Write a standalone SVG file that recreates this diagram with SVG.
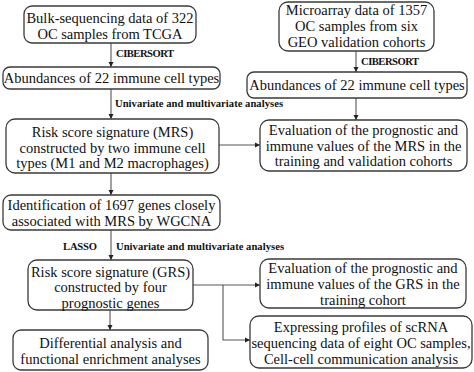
<svg xmlns="http://www.w3.org/2000/svg" width="474" height="372" viewBox="0 0 474 372">
<defs>
<style>
.box{fill:#fff;stroke:#3a3a3a;stroke-width:1.3}
.t{font-family:"Liberation Serif","Times New Roman",serif;font-size:14.5px;fill:#111;text-anchor:middle}
.l{font-family:"Liberation Serif","Times New Roman",serif;font-size:10.6px;font-weight:bold;fill:#111}
.c{fill:none;stroke:#555;stroke-width:1.1}
</style>
<marker id="ah" viewBox="0 0 6 6" refX="6" refY="3" markerWidth="5" markerHeight="5" orient="auto">
<path d="M0,0 L6,3 L0,6 z" fill="#222"/>
</marker>
</defs>
<rect width="474" height="372" fill="#fff"/>
<g id="connectors">
<line class="c" x1="111" y1="43" x2="111" y2="67" marker-end="url(#ah)"/>
<line class="c" x1="111" y1="89" x2="111" y2="119" marker-end="url(#ah)"/>
<line class="c" x1="111" y1="173" x2="111" y2="195" marker-end="url(#ah)"/>
<line class="c" x1="111" y1="230" x2="111" y2="260" marker-end="url(#ah)"/>
<line class="c" x1="110" y1="310" x2="110" y2="330" marker-end="url(#ah)"/>
<line class="c" x1="356" y1="51" x2="356" y2="72" marker-end="url(#ah)"/>
<line class="c" x1="356" y1="98" x2="356" y2="120" marker-end="url(#ah)"/>
<line class="c" x1="219" y1="145" x2="260" y2="145" marker-end="url(#ah)"/>
<line class="c" x1="193" y1="285" x2="260" y2="285" marker-end="url(#ah)"/>
<polyline class="c" points="223,285 223,340 250,340" marker-end="url(#ah)"/>
<text class="l" x="116" y="57" textLength="58">CIBERSORT</text>
<text class="l" x="361" y="65" textLength="58">CIBERSORT</text>
<text class="l" x="115" y="107" textLength="168">Univariate and multivariate analyses</text>
<text class="l" x="63" y="250" textLength="34">LASSO</text>
<text class="l" x="116" y="250" textLength="168">Univariate and multivariate analyses</text>
</g>
<g id="bulk">
<rect class="box" x="24" y="6" width="172" height="37" rx="8"/>
<text class="t" x="110" y="23">Bulk-sequencing data of 322</text>
<text class="t" x="110" y="39">OC samples from TCGA</text>
</g>
<g id="abund-left">
<rect class="box" x="3" y="67" width="217" height="22" rx="7"/>
<text class="t" x="111.5" y="83">Abundances of 22 immune cell types</text>
</g>
<g id="mrs">
<rect class="box" x="6" y="119" width="213" height="54" rx="9"/>
<text class="t" x="112.5" y="137">Risk score signature (MRS)</text>
<text class="t" x="112.5" y="153">constructed by two immune cell</text>
<text class="t" x="112.5" y="168">types (M1 and M2 macrophages)</text>
</g>
<g id="wgcna">
<rect class="box" x="3" y="195" width="217" height="35" rx="8"/>
<text class="t" x="111.5" y="210">Identification of 1697 genes closely</text>
<text class="t" x="111.5" y="226">associated with MRS by WGCNA</text>
</g>
<g id="grs">
<rect class="box" x="28" y="260" width="165" height="50" rx="9"/>
<text class="t" x="110.5" y="277">Risk score signature (GRS)</text>
<text class="t" x="110.5" y="292">constructed by four</text>
<text class="t" x="110.5" y="308">prognostic genes</text>
</g>
<g id="diff">
<rect class="box" x="13" y="330" width="195" height="40" rx="8"/>
<text class="t" x="110.5" y="348">Differential analysis and</text>
<text class="t" x="110.5" y="364">functional enrichment analyses</text>
</g>
<g id="microarray">
<rect class="box" x="279" y="2" width="155" height="49" rx="9"/>
<text class="t" x="356.5" y="15">Microarray data of 1357</text>
<text class="t" x="356.5" y="31">OC samples from six</text>
<text class="t" x="356.5" y="47">GEO validation cohorts</text>
</g>
<g id="abund-right">
<rect class="box" x="247" y="72" width="220" height="26" rx="7"/>
<text class="t" x="357" y="90">Abundances of 22 immune cell types</text>
</g>
<g id="eval-mrs">
<rect class="box" x="260" y="120" width="207" height="51" rx="9"/>
<text class="t" x="363.5" y="135">Evaluation of the prognostic and</text>
<text class="t" x="363.5" y="151">immune values of the MRS in the</text>
<text class="t" x="363.5" y="166">training and validation cohorts</text>
</g>
<g id="eval-grs">
<rect class="box" x="260" y="259" width="206" height="49" rx="9"/>
<text class="t" x="363" y="273">Evaluation of the prognostic and</text>
<text class="t" x="363" y="289">immune values of the GRS in the</text>
<text class="t" x="363" y="305">training cohort</text>
</g>
<g id="scrna">
<rect class="box" x="250" y="316" width="222" height="52" rx="9"/>
<text class="t" x="361" y="332">Expressing profiles of scRNA</text>
<text class="t" x="361" y="348">sequencing data of eight OC samples,</text>
<text class="t" x="361" y="364">Cell-cell communication analysis</text>
</g>
</svg>
